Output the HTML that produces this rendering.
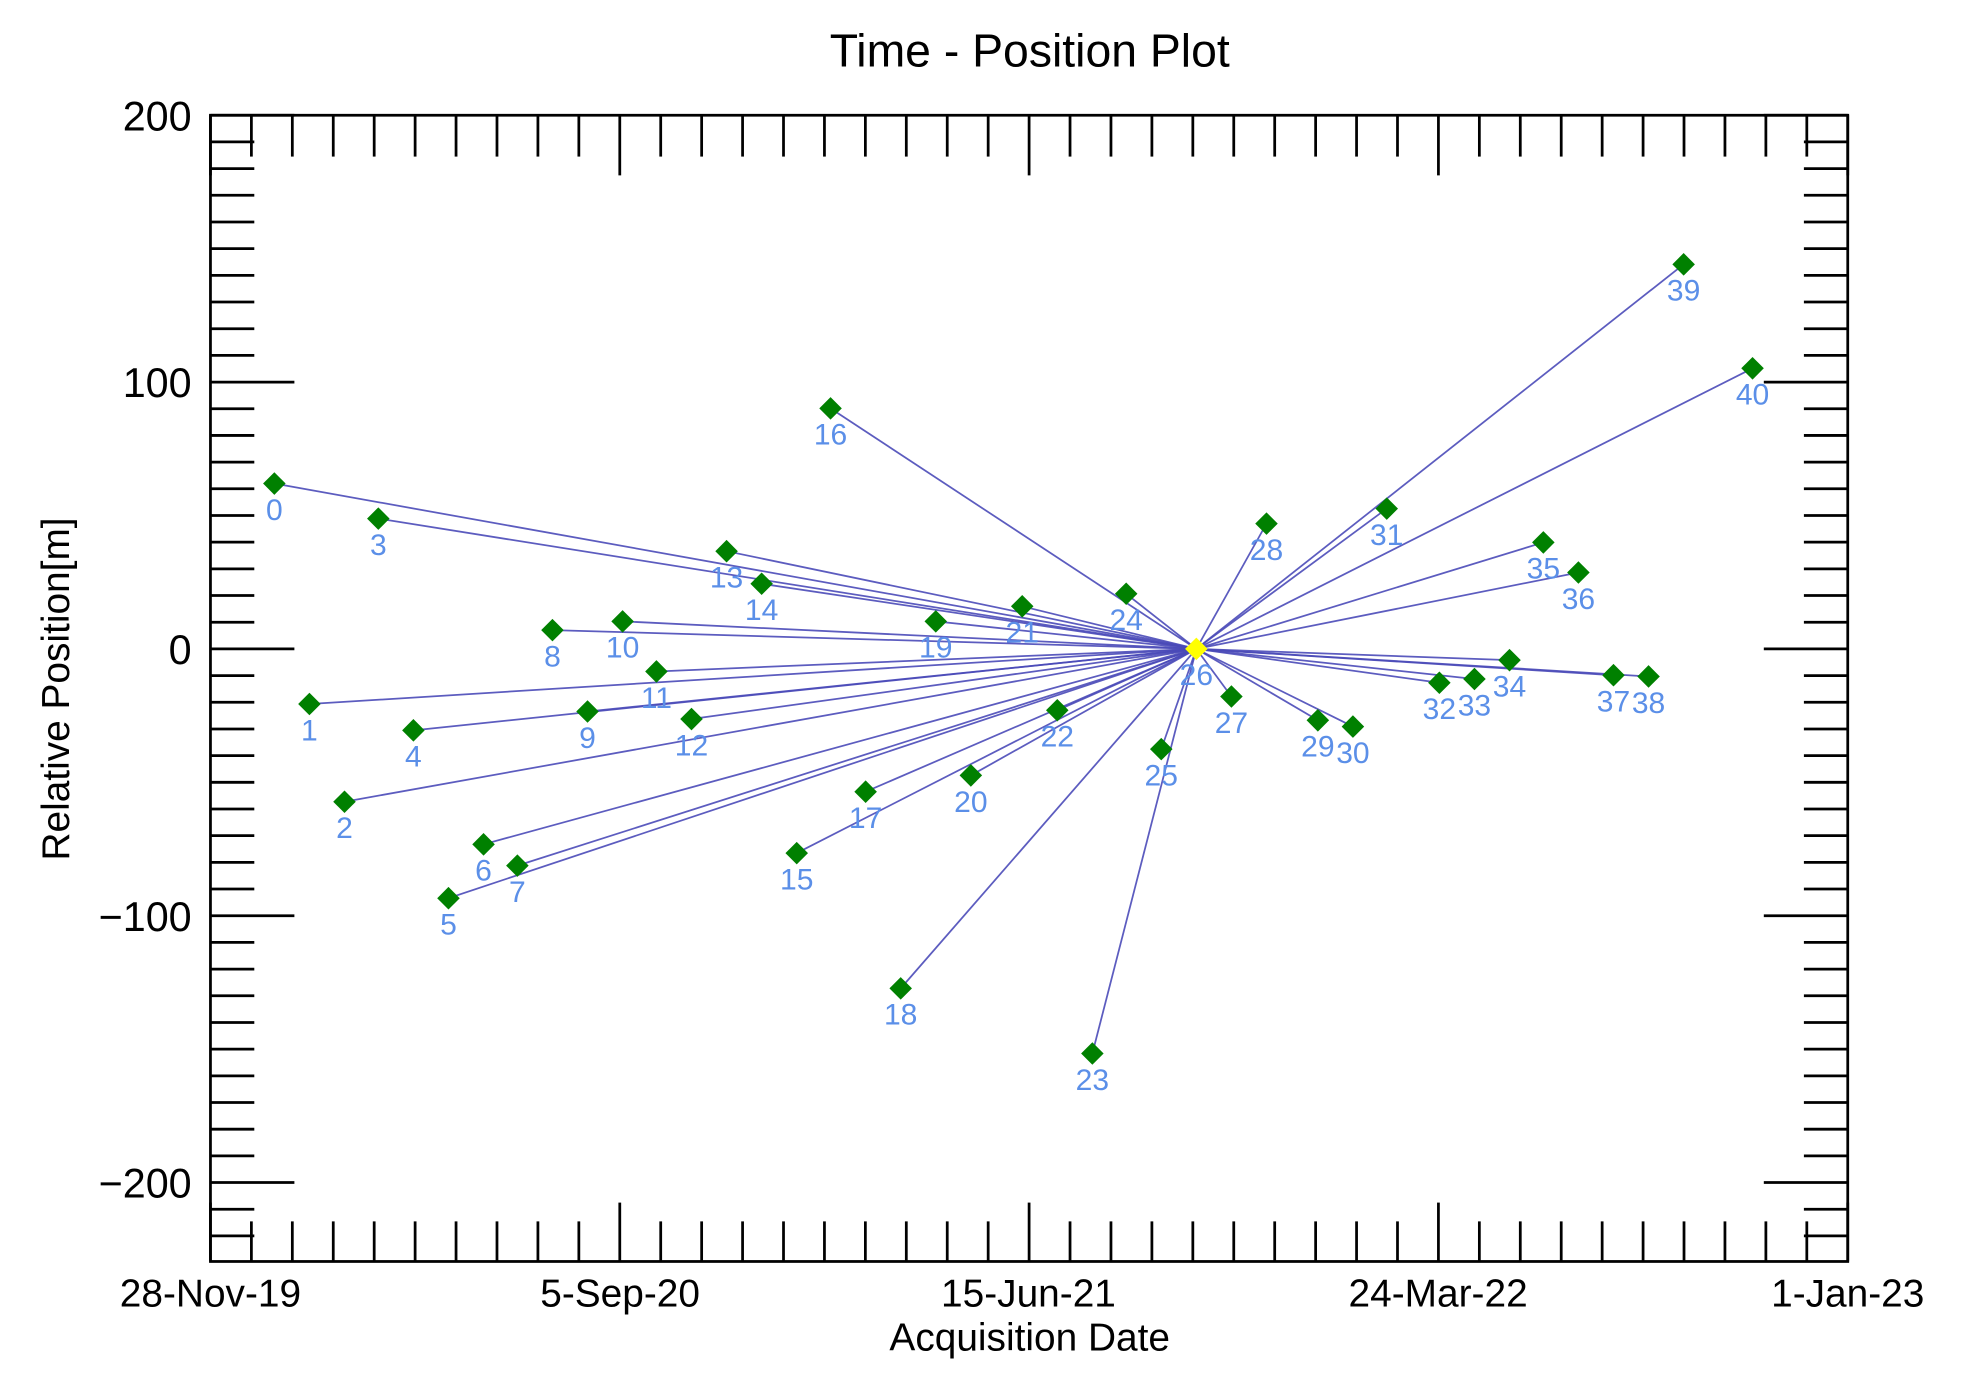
<!DOCTYPE html>
<html><head><meta charset="utf-8"><style>html,body{margin:0;padding:0;background:#fff}svg{display:block}</style></head>
<body>
<svg width="1964" height="1390" viewBox="0 0 1567.8 1109.6" xmlns="http://www.w3.org/2000/svg" font-family="Liberation Sans, DejaVu Sans, sans-serif">
<rect width="1568" height="1110" fill="#fff"/>
<text x="822" y="53" font-size="37" text-anchor="middle">Time - Position Plot</text>
<g id="ticks" stroke="#000" stroke-width="2.2"></g>
<rect x="168" y="92" width="1307" height="915" fill="none" stroke="#000" stroke-width="2.2"/>
<g font-size="33" text-anchor="end">
<text x="153" y="104">200</text><text x="153" y="317">100</text><text x="153" y="530">0</text><text x="153" y="743">−100</text><text x="153" y="956">−200</text>
</g>
<g font-size="31" text-anchor="middle">
<text x="168" y="1043">28-Nov-19</text><text x="495" y="1043">5-Sep-20</text><text x="821" y="1043">15-Jun-21</text><text x="1148" y="1043">24-Mar-22</text><text x="1475" y="1043">1-Jan-23</text>
</g>
<text x="822" y="1078" font-size="31" text-anchor="middle">Acquisition Date</text>
<text transform="translate(55,550) rotate(-90)" font-size="31" text-anchor="middle">Relative Position[m]</text>
<g id="lines" stroke="#4a4ab8" stroke-width="1.4" stroke-opacity="0.9"></g>
<g id="pts"></g>
<script>
var P=[[219,386],[247,562],[275,640],[302,414],[330,583],[358,717],[386,674],[413,691],[441,503],[469,568],[497,496],[524,536],[552,574],[580,440],[608,466],[636,681],[663,326],[691,632],[719,789],[747,496],[775,619],[816,484],[844,567],[872,841],[899,474],[927,598],[955,518],[983,556],[1011,418],[1052,575],[1080,580],[1107,406],[1149,545],[1177,542],[1205,527],[1232,433],[1260,457],[1288,539],[1316,540],[1344,211],[1399,294]];
var NS="http://www.w3.org/2000/svg";
function el(t,a,p){var e=document.createElementNS(NS,t);for(var k in a)e.setAttribute(k,a[k]);p.appendChild(e);return e;}
var T=document.getElementById('ticks');
for(var i=0;i<=40;i++){var x=168+i*32.675;var maj=i%10==0;
el('line',{x1:x,y1:1007,x2:x,y2:maj?960:975},T);el('line',{x1:x,y1:92,x2:x,y2:maj?140:125},T);}
for(var j=0;j<=43;j++){var v=200-j*10;var y=518-v*2.13;if(y>1007)break;var maj=v%100==0;
el('line',{x1:168,y1:y,x2:maj?235:203,y2:y},T);el('line',{x1:1475,y1:y,x2:maj?1408:1440,y2:y},T);}
var L=document.getElementById('lines'),G=document.getElementById('pts');
P.forEach(function(p,i){if(i!=26)el('line',{x1:955,y1:518,x2:p[0],y2:p[1]},L);});
P.forEach(function(p,i){var s=9;el('polygon',{points:(p[0])+','+(p[1]-s)+' '+(p[0]+s)+','+p[1]+' '+p[0]+','+(p[1]+s)+' '+(p[0]-s)+','+p[1],fill:i==26?'#ffff00':'#008000'},G);
var t=el('text',{x:p[0],y:p[1]+29,'font-size':24,fill:'#5b8fe8','text-anchor':'middle'},G);t.textContent=i;});
</script>
</svg>
</body></html>
